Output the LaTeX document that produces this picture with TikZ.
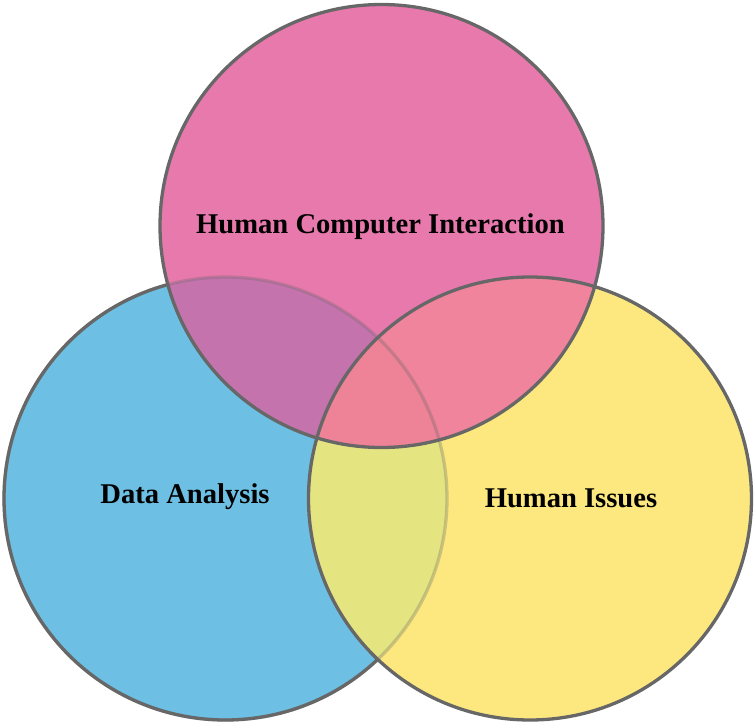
\documentclass[tikz,border=0pt]{standalone}
\usepackage{fontspec}
\setmainfont{Liberation Serif}
\definecolor{ringgray}{HTML}{676767}
\definecolor{hcipink}{HTML}{E879AD}
\definecolor{datablue}{HTML}{6DC0E3}
\definecolor{issueyellow}{HTML}{FCE87E}
\definecolor{pinkblue}{HTML}{C573AC}
\definecolor{pinkyellow}{HTML}{F0849C}
\definecolor{blueyellow}{HTML}{E4E581}
\definecolor{allthree}{HTML}{EE8296}
\tikzset{ring/.style = {draw=ringgray, line width=3.3pt},
         faintring/.style = {draw=ringgray, draw opacity=0.3, line width=3.3pt},
         title/.style = {font=\fontsize{28.6}{34}\selectfont\bfseries, text=black, inner sep=0pt, anchor=base}}
\newcommand{\rad}{221.5}

\begin{document}
\begin{tikzpicture}[x=1pt,y=-1pt]
        \useasboundingbox(0,0)rectangle(755,723);
        \coordinate(hci)at(381.5,226);
        \coordinate(da)at(225.5,498.5);
        \coordinate(hi)at(530,498.5);

        % blue set with its outline
        \fill[datablue](da)circle(\rad);
        \draw[ring](da)circle(\rad);

        % yellow and pink sets, overlaps filled in
        \fill[issueyellow](hi)circle(\rad);
        \begin{scope}
            \clip(hi)circle(\rad);
            \fill[blueyellow](da)circle(\rad);
        \end{scope}
        \fill[hcipink](hci)circle(\rad);
        \begin{scope}
            \clip(hci)circle(\rad);
            \fill[pinkblue](da)circle(\rad);
            \fill[pinkyellow](hi)circle(\rad);
            \clip(hi)circle(\rad);
            \fill[allthree](da)circle(\rad);
        \end{scope}

        \draw[faintring](da)circle(\rad);
        \draw[ring](hi)circle(\rad);
        \draw[ring](hci)circle(\rad);

        \node[title](t1)at(380.5,233){Human Computer Interaction};
        \node[title](t2)at(185,503){Data Analysis};
        \node[title](t3)at(571,507){Human Issues};
    \end{tikzpicture}
\end{document}
